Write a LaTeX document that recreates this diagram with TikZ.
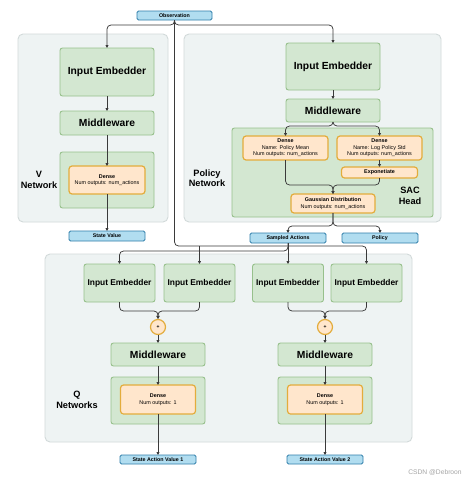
\documentclass[tikz,border=0pt]{standalone}
\usepackage{fontspec}
\setmainfont{Liberation Sans}
\usetikzlibrary{arrows.meta}
\definecolor{panelfill}{HTML}{EEF3F3}
\definecolor{paneldraw}{HTML}{D2DADA}
\definecolor{gfill}{HTML}{D3E7D1}
\definecolor{gdraw}{HTML}{97C08C}
\definecolor{ofill}{HTML}{FFE6CC}
\definecolor{odraw}{HTML}{E3AC3C}
\definecolor{bfill}{HTML}{B1DDF0}
\definecolor{bdraw}{HTML}{2F7EAA}
\definecolor{linec}{HTML}{3A3A3A}
\tikzset{
  base/.style={inner sep=0pt, outer sep=0pt, rounded corners=2.5pt, line width=0.9pt, align=center, text=black},
  panel/.style={base, fill=panelfill, draw=paneldraw, rounded corners=5pt},
  gbox/.style={base, fill=gfill, draw=gdraw},
  obox/.style={base, fill=ofill, draw=odraw, line width=1.2pt, rounded corners=3pt},
  bbox/.style={base, fill=bfill, draw=bdraw, rounded corners=1.5pt, line width=0.8pt, font=\fontsize{5.3}{6}\selectfont\bfseries},
  big/.style={font=\fontsize{10.3}{12}\selectfont\bfseries},
  mid/.style={font=\fontsize{8.4}{10}\selectfont\bfseries},
  lbl/.style={align=center, inner sep=0pt, font=\fontsize{9.2}{10.5}\selectfont\bfseries},
  small/.style={font=\fontsize{5.4}{6.4}\selectfont},
  arr/.style={draw=linec, line width=0.75pt, rounded corners=4pt, -{Triangle[length=3pt,width=3pt]}},
  ln/.style={draw=linec, line width=0.75pt, rounded corners=4pt},
}
\begin{document}
\begin{tikzpicture}[x=1pt,y=-1pt]
\useasboundingbox (0,0) rectangle (474,482);
\fill[white] (0,0) rectangle (474,482);
% panels
\node[panel, minimum width=150pt, minimum height=188pt] (vpanel) at (93,128) {};
\node[panel, minimum width=257pt, minimum height=188pt] (ppanel) at (312.5,128) {};
\node[panel, minimum width=367pt, minimum height=188pt] (qpanel) at (228.5,348) {};
% observation
\node[bbox, minimum width=75pt, minimum height=9pt] (obs) at (174.5,15.5) {Observation};
% V network
\node[gbox, big, minimum width=94pt, minimum height=48pt] (vie) at (107,72) {Input Embedder};
\node[gbox, big, minimum width=94pt, minimum height=24pt] (vmw) at (107,123) {Middleware};
\node[gbox, minimum width=94pt, minimum height=56pt] (vdg) at (107,180) {};
\node[obox, small, minimum width=76pt, minimum height=28pt] (vdo) at (107,180) {\textbf{Dense}\\Num outputs: num\_actions};
\node[lbl] (vlabel) at (39,180) {V\\Network};
\node[bbox, minimum width=76pt, minimum height=10pt] (sv) at (107,236) {State Value};
% Policy network
\node[gbox, big, minimum width=94pt, minimum height=47pt] (pie) at (333,66.5) {Input Embedder};
\node[gbox, big, minimum width=94pt, minimum height=23pt] (pmw) at (333,110.5) {Middleware};
\node[gbox, minimum width=201pt, minimum height=89pt] (sac) at (332.5,172.5) {};
\node[obox, small, minimum width=85pt, minimum height=24pt] (dmean) at (285.5,148) {\textbf{Dense}\\Name: Policy Mean\\Num outputs: num\_actions};
\node[obox, small, minimum width=85pt, minimum height=24pt] (dstd) at (379.5,148) {\textbf{Dense}\\Name: Log Policy Std\\Num outputs: num\_actions};
\node[obox, small, minimum width=76pt, minimum height=11pt] (expo) at (379.5,172.5) {\textbf{Exponetiate}};
\node[obox, small, minimum width=84pt, minimum height=19pt] (gauss) at (333,203.5) {\textbf{Gaussian Distribution}\\Num outputs: num\_actions};
\node[lbl] (plabel) at (207,178) {Policy\\Network};
\node[lbl] (saclabel) at (410,196) {SAC\\Head};
\node[bbox, minimum width=76pt, minimum height=10pt] (sa) at (288,238) {Sampled Actions};
\node[bbox, minimum width=76pt, minimum height=10pt] (pol) at (380,238) {Policy};
% Q networks
\node[gbox, mid, minimum width=71pt, minimum height=38pt] (qe1) at (119.5,283) {Input Embedder};
\node[gbox, mid, minimum width=71pt, minimum height=38pt] (qe2) at (199.5,283) {Input Embedder};
\node[gbox, mid, minimum width=71pt, minimum height=38pt] (qe3) at (288,283) {Input Embedder};
\node[gbox, mid, minimum width=71pt, minimum height=38pt] (qe4) at (366.5,283) {Input Embedder};
\node[circle, fill=ofill, draw=odraw, line width=1.2pt, minimum size=15pt, inner sep=0pt, font=\fontsize{5}{5}\selectfont\bfseries] (plus1) at (158,327) {+};
\node[circle, fill=ofill, draw=odraw, line width=1.2pt, minimum size=15pt, inner sep=0pt, font=\fontsize{5}{5}\selectfont\bfseries] (plus2) at (325,327) {+};
\node[gbox, big, minimum width=94pt, minimum height=23pt] (qm1) at (158,354.5) {Middleware};
\node[gbox, big, minimum width=94pt, minimum height=23pt] (qm2) at (325,354.5) {Middleware};
\node[gbox, minimum width=94pt, minimum height=47pt] (qdg1) at (158,400.5) {};
\node[gbox, minimum width=94pt, minimum height=47pt] (qdg2) at (325,400.5) {};
\node[obox, small, minimum width=75pt, minimum height=29pt] (qdo1) at (158,399.5) {\textbf{Dense}\\Num outputs: 1};
\node[obox, small, minimum width=75pt, minimum height=29pt] (qdo2) at (325,399.5) {\textbf{Dense}\\Num outputs: 1};
\node[lbl] (qlabel) at (77,400) {Q\\Networks};
\node[bbox, minimum width=76pt, minimum height=9pt] (sav1) at (158,459.5) {State Action Value 1};
\node[bbox, minimum width=76pt, minimum height=9pt] (sav2) at (325,459.5) {State Action Value 2};
\node[text=black!35, font=\fontsize{6.7}{8}\selectfont, inner sep=0pt] (wm) at (435,473) {CSDN @Debroon};
% connectors: observation
\coordinate (oa) at (174.5,25);
\coordinate (ob) at (174.5,246);
\coordinate (sb) at (288,251);
\draw[arr] (obs.south) -- (oa) -| (vie.north);
\draw[arr] (obs.south) -- (oa) -| (pie.north);
\draw[arr] (obs.south) -- (ob) -| (qe4.north);
\draw[arr] (qe2.north |- ob) -- (qe2.north);
\draw[arr] (sa.south) -- (sb) -| (qe1.north);
\draw[arr] (sa.south) -- (qe3.north);
% V network
\draw[arr] (vie.south) -- (vmw.north);
\draw[arr] (vmw.south) -- (vdo.north);
\draw[arr] (vdo.south) -- (sv.north);
% policy
\draw[arr] (pie.south) -- (pmw.north);
\draw[arr] (pmw.south) -- (333,126) -| (dmean.north);
\draw[arr] (pmw.south) -- (333,126) -| (dstd.north);
\draw[arr] (dstd.south) -- (expo.north);
\draw[arr] (dmean.south) |- (333,185) -- (gauss.north);
\draw[arr] (expo.south) |- (333,185) -- (gauss.north);
\draw[arr] (gauss.south) -- (333,226) -| (sa.north);
\draw[arr] (gauss.south) -- (333,226) -| (pol.north);
% Q networks
\draw[arr] (qe1.south) |- (158,311) -- (plus1.north);
\draw[arr] (qe2.south) |- (158,311) -- (plus1.north);
\draw[arr] (qe3.south) |- (325,311) -- (plus2.north);
\draw[arr] (qe4.south) |- (325,311) -- (plus2.north);
\draw[arr] (plus1.south) -- (qm1.north);
\draw[arr] (plus2.south) -- (qm2.north);
\draw[arr] (qm1.south) -- (qdo1.north);
\draw[arr] (qm2.south) -- (qdo2.north);
\draw[arr] (qdo1.south) -- (sav1.north);
\draw[arr] (qdo2.south) -- (sav2.north);
\end{tikzpicture}
\end{document}
